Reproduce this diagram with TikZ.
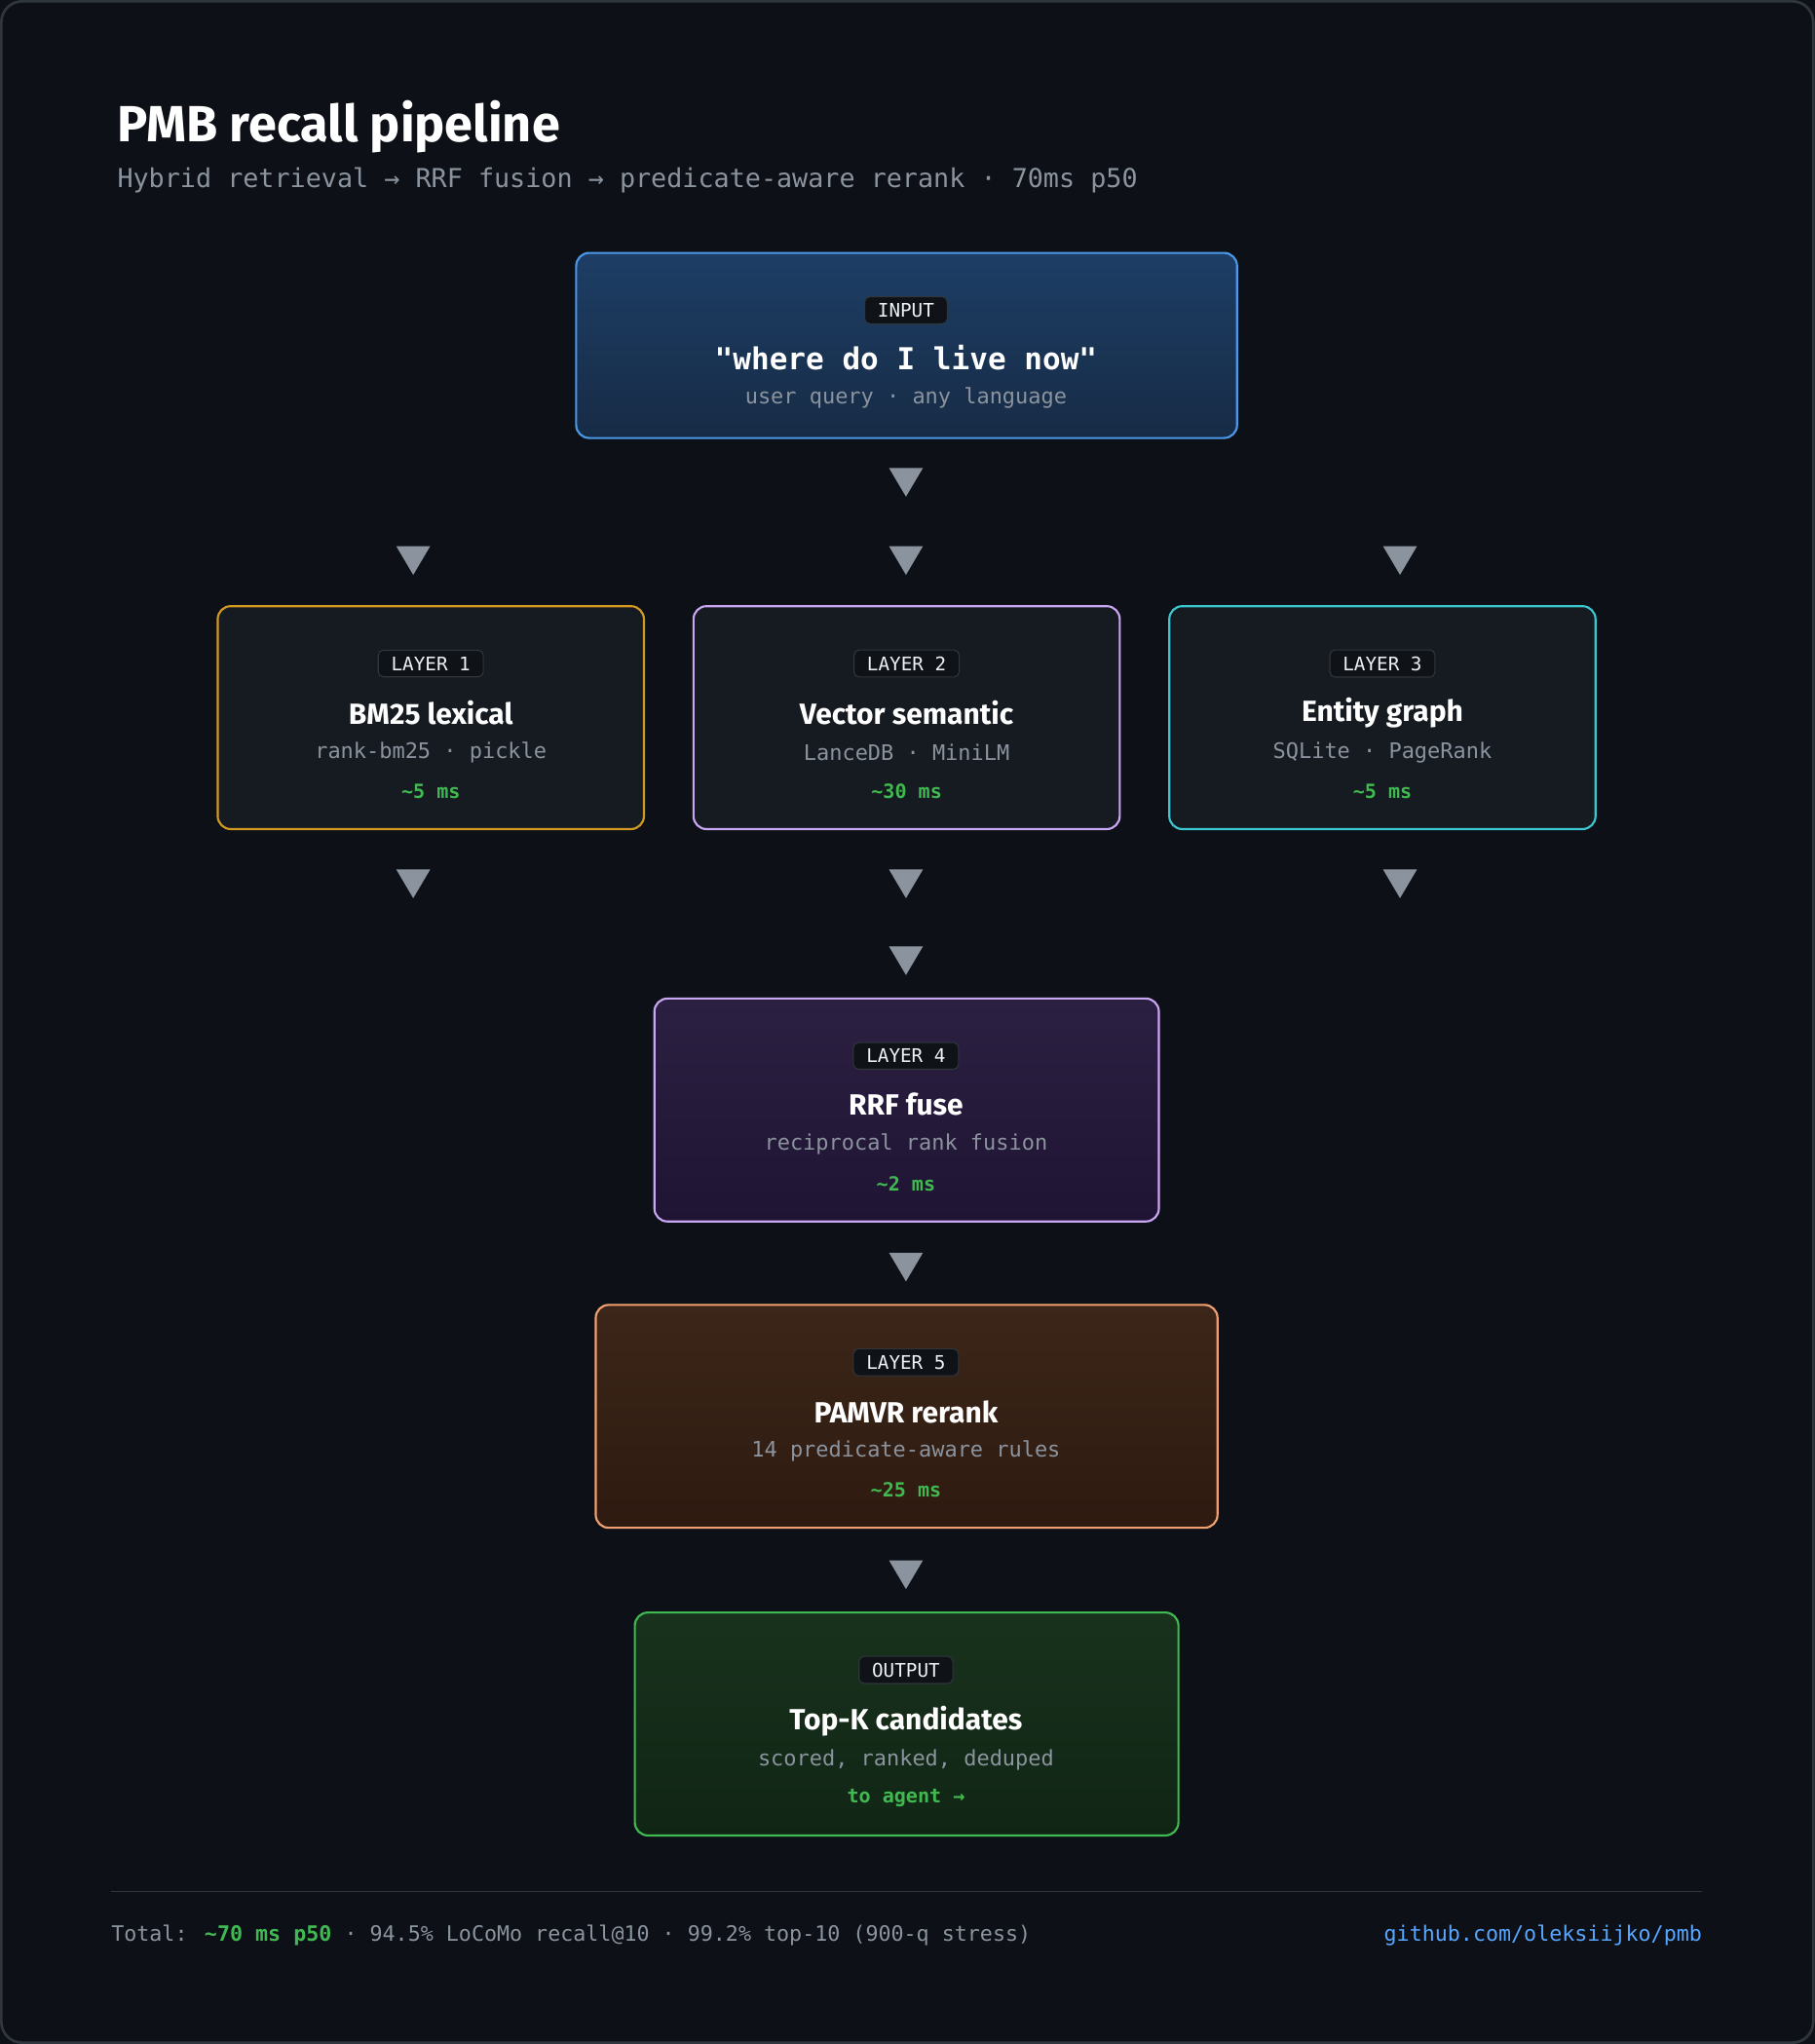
\documentclass[tikz,border=0pt]{standalone}
\usepackage{fontspec}
\setmainfont{Fira Sans}
\newfontfamily\mono{DejaVu Sans Mono}
\newfontfamily\fira{Fira Sans}
\definecolor{bg}{HTML}{0D1117}
\definecolor{edge}{HTML}{30363D}
\definecolor{card}{HTML}{161B22}
\definecolor{txt}{HTML}{E6EDF3}
\definecolor{muted}{HTML}{8B949E}
\definecolor{grn}{HTML}{3FB950}
\definecolor{lnk}{HTML}{58A6FF}
\definecolor{tri}{HTML}{8B949E}
\definecolor{tagbg}{HTML}{0F1318}
\definecolor{inTop}{HTML}{1D3E66}
\definecolor{inBot}{HTML}{172B45}
\definecolor{inBd}{HTML}{4A98E6}
\definecolor{l1}{HTML}{D29922}
\definecolor{l2}{HTML}{C9A6F2}
\definecolor{l3}{HTML}{3CC6CE}
\definecolor{l4Top}{HTML}{2C2042}
\definecolor{l4Bot}{HTML}{1F1433}
\definecolor{l5Top}{HTML}{3C2619}
\definecolor{l5Bot}{HTML}{2E1A10}
\definecolor{l5Bd}{HTML}{F0A070}
\definecolor{oTop}{HTML}{18321D}
\definecolor{oBot}{HTML}{112515}
\begin{document}
\begin{tikzpicture}[x=0.5pt,y=-0.5pt,
  box/.style={rounded corners=5pt,line width=0.8pt},
  tagn/.style={draw=edge,fill=tagbg,rounded corners=2pt,font=\mono\fontsize{7.2}{8}\selectfont,text=txt!80,inner xsep=5pt,inner ysep=2.5pt},
  ttl/.style={font=\fira\bfseries\fontsize{11.2}{13}\selectfont,text=white},
  subt/.style={font=\mono\fontsize{8.2}{10}\selectfont,text=muted},
  ms/.style={font=\mono\bfseries\fontsize{7.5}{9}\selectfont,text=grn}]
\fill[bg] (0,0) rectangle (1392,1568);
\draw[edge,line width=1pt,rounded corners=8pt] (1,1) rectangle (1391,1567);
\node[anchor=west,font=\fira\bfseries\fontsize{19.5}{22}\selectfont,text=white] (title) at (83,97) {PMB recall pipeline};
\node[anchor=west,font=\mono\fontsize{10}{12}\selectfont,text=muted] (subtitle) at (83,138) {Hybrid retrieval → RRF fusion → predicate-aware rerank · 70ms p50};
% triangles
\foreach \x/\y in {695/370,317/430,695/430,1074/430,317/678,695/678,1074/678,695/737,695/972,695/1208}
  \fill[tri] (\x-13,\y-11) -- (\x+13,\y-11) -- (\x,\y+11) -- cycle;
% input
\shade[box,top color=inTop,bottom color=inBot] (442,194) rectangle (949,336);
\draw[box,inBd] (442,194) rectangle (949,336);
\node[tagn] (intag) at (695,238) {INPUT};
\node[font=\mono\bfseries\fontsize{11.6}{14}\selectfont,text=white] (inttl) at (695,274) {"where do I live now"};
\node[subt] (insub) at (695,305) {user query · any language};
% layers 1-3
\foreach \xa/\xb/\c/\n/\t/\s/\m in {167/494/l1/1/BM25 lexical/rank-bm25 · pickle/\textasciitilde5 ms,532/859/l2/2/Vector semantic/LanceDB · MiniLM/\textasciitilde30 ms,897/1224/l3/3/Entity graph/SQLite · PageRank/\textasciitilde5 ms}{
  \draw[box,draw=\c,fill=card] (\xa,465) rectangle (\xb,636);
  \node[tagn] (tag\n) at ({(\xa+\xb)/2},509) {LAYER \n};
  \node[ttl] (ttl\n) at ({(\xa+\xb)/2},547) {\t};
  \node[subt] (sub\n) at ({(\xa+\xb)/2},577) {\s};
  \node[ms] (ms\n) at ({(\xa+\xb)/2},607) {\m};
}
% layer 4
\shade[box,top color=l4Top,bottom color=l4Bot] (502,766) rectangle (889,937);
\draw[box,l2] (502,766) rectangle (889,937);
\node[tagn] (tag4) at (695,810) {LAYER 4};
\node[ttl] (ttl4) at (695,847) {RRF fuse};
\node[subt] (sub4) at (695,878) {reciprocal rank fusion};
\node[ms] (ms4) at (695,908) {\textasciitilde2 ms};
% layer 5
\shade[box,top color=l5Top,bottom color=l5Bot] (457,1001) rectangle (934,1172);
\draw[box,l5Bd] (457,1001) rectangle (934,1172);
\node[tagn] (tag5) at (695,1045) {LAYER 5};
\node[ttl] (ttl5) at (695,1083) {PAMVR rerank};
\node[subt] (sub5) at (695,1113) {14 predicate-aware rules};
\node[ms] (ms5) at (695,1143) {\textasciitilde25 ms};
% output
\shade[box,top color=oTop,bottom color=oBot] (487,1237) rectangle (904,1408);
\draw[box,grn] (487,1237) rectangle (904,1408);
\node[tagn] (otag) at (695,1281) {OUTPUT};
\node[ttl] (ottl) at (695,1320) {Top-K candidates};
\node[subt] (osub) at (695,1350) {scored, ranked, deduped};
\node[ms] (oms) at (695,1379) {to agent →};
% footer
\draw[edge,line width=0.6pt] (85,1451) -- (1306,1451);
\node[anchor=west,font=\mono\fontsize{8.1}{10}\selectfont,text=muted,inner xsep=0pt] (foot) at (85,1485) {Total: \textcolor{grn}{\bfseries \textasciitilde70 ms p50} · 94.5\% LoCoMo recall@10 · 99.2\% top-10 (900-q stress)};
\node[anchor=east,font=\mono\fontsize{8.1}{10}\selectfont,text=lnk,inner xsep=0pt] (link) at (1306,1485) {github.com/oleksiijko/pmb};
\end{tikzpicture}
\end{document}
